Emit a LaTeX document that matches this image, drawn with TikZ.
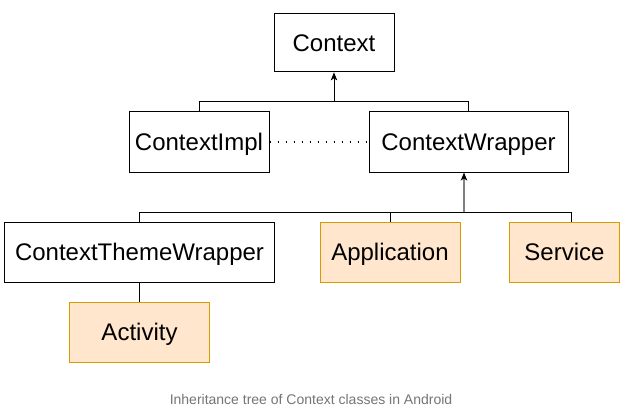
\documentclass[tikz,border=0pt]{standalone}
\usepackage{fontspec}
\setmainfont{Liberation Sans}
\usetikzlibrary{arrows.meta}
\definecolor{boxfill}{HTML}{FFE6CC}
\definecolor{boxline}{HTML}{D79B00}
\definecolor{captiongray}{HTML}{757575}
\definecolor{arrowgray}{HTML}{808080}
\begin{document}
\begin{tikzpicture}[x=0.75pt,y=-0.75pt,
  cls/.style={draw=black, line width=0.75pt, fill=white, minimum height=45pt, inner sep=0pt,
    text height=12.9pt, text depth=0pt,
    font=\fontsize{18}{20}\selectfont, text=black},
  hl/.style={cls, draw=boxline, fill=boxfill},
  link/.style={line width=0.75pt, draw=black},
  inherit/.style={link, -{Stealth[length=6pt,width=4.8pt,inset=1.5pt]}},
  inheritgray/.style={line width=1.2pt, draw=arrowgray, -{Stealth[length=6pt,width=4.8pt,inset=1.5pt,color=black]}},
  assoc/.style={line width=0.9pt, dash pattern=on 0.9pt off 5.1pt}
]
\useasboundingbox (0,0) rectangle (632,410);
\fill[white] (0,0) rectangle (632,410);

\node[cls, minimum width=90pt, minimum height=44pt] (ctx) at (334,42.5) {Context};
\node[cls, minimum width=105pt] (impl) at (199,142) {ContextImpl};
\node[cls, minimum width=149.25pt] (wrap) at (468.5,142) {ContextWrapper};
\node[cls, minimum width=202.5pt] (theme) at (139.5,252) {ContextThemeWrapper};
\node[hl, minimum width=105pt] (app) at (390,252) {Application};
\node[hl, minimum width=82.5pt] (svc) at (564.5,252) {Service};
\node[hl, minimum width=105pt] (act) at (139.5,332.3) {Activity};

\coordinate (bustop) at (334,102);
\coordinate (busbot) at (464,212);

% top level inheritance
\draw[link] (impl.north) |- (bustop);
\draw[link] (wrap.north) |- (bustop);
\draw[inherit] (bustop) -- (ctx.south);

% association
\draw[assoc] (impl.east) -- (wrap.west);

% second level inheritance
\draw[link] (theme.north) |- (busbot);
\draw[link] (app.north) |- (busbot);
\draw[link] ([xshift=4.9]svc.north) |- (busbot);
\draw[inheritgray] (busbot) -- (wrap.south -| busbot);

% third level
\draw[link] (act.north) -- (theme.south);

\node[text=captiongray, font=\fontsize{10.5}{12}\selectfont, inner sep=0pt] (cap) at (311,399.5)
  {Inheritance tree of Context classes in Android};
\end{tikzpicture}
\end{document}
